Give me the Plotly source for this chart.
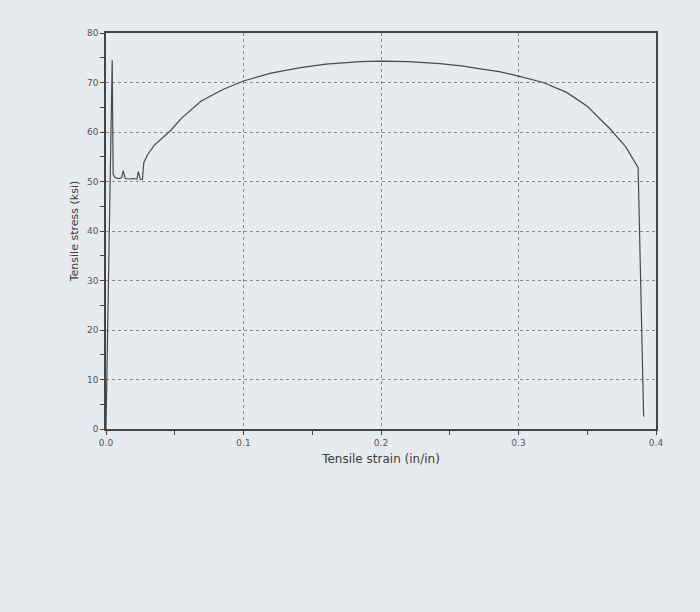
import plotly.graph_objects as go

strain = [0.0, 0.0045, 0.0052, 0.0065, 0.009, 0.0115, 0.0125, 0.0140, 0.017, 0.020, 0.0225, 0.0235, 0.0250, 0.0265,
          0.0275, 0.030, 0.035, 0.047, 0.055, 0.069, 0.085, 0.100, 0.120, 0.1415, 0.160, 0.185, 0.200,
          0.220, 0.243, 0.260, 0.271, 0.286, 0.300, 0.318, 0.335, 0.350, 0.367, 0.378, 0.387, 0.391]
stress = [0.0, 74.5, 51.5, 50.8, 50.6, 50.8, 52.2, 50.6, 50.5, 50.6, 50.5, 52.0, 50.4, 50.4,
          53.8, 55.3, 57.3, 60.3, 62.8, 66.2, 68.6, 70.3, 71.9, 73.0, 73.7, 74.2, 74.3,
          74.2, 73.8, 73.3, 72.8, 72.2, 71.3, 70.0, 68.0, 65.2, 60.5, 57.0, 52.8, 2.5]

x_ticks = [0.0, 0.1, 0.2, 0.3, 0.4]
x_labels = ["0.0", "0.1", "0.2", "0.3", "0.4"]
y_ticks = [0, 10, 20, 30, 40, 50, 60, 70, 80]

bg = "#e7eaee"
fig = go.Figure()
fig.add_trace(go.Scatter(x=strain, y=stress, mode="lines",
                         line=dict(color="#4a4a4a", width=1.2), showlegend=False,
                         hoverinfo="skip"))

fig.update_layout(
    width=700, height=612,
    paper_bgcolor=bg, plot_bgcolor=bg,
    margin=dict(l=106, r=44, t=33, b=183),
    font=dict(family="DejaVu Sans", color="#555555", size=9),
)
fig.update_xaxes(
    range=[0, 0.4], tickvals=x_ticks, ticktext=x_labels,
    showline=True, linecolor="#444444", linewidth=1.5, mirror=True,
    showgrid=True, gridcolor="#8a8a8a", griddash="dot", gridwidth=1,
    ticks="outside", ticklen=4, tickcolor="#444444",
    minor=dict(dtick=0.05, ticks="outside", ticklen=4, tickcolor="#444444", showgrid=False),
    zeroline=False,
    title=dict(text="Tensile strain (in/in)", font=dict(size=12, color="#3a3a3a"), standoff=8),
    tickfont=dict(size=9, color="#555555"),
)
fig.update_yaxes(
    range=[0, 80], tickvals=y_ticks,
    showline=True, linecolor="#444444", linewidth=1.5, mirror=True,
    showgrid=True, gridcolor="#8a8a8a", griddash="dot", gridwidth=1,
    ticks="outside", ticklen=4, tickcolor="#444444",
    minor=dict(dtick=5, ticks="outside", ticklen=4, tickcolor="#444444", showgrid=False),
    zeroline=False,
    title=dict(text="Tensile stress (ksi)", font=dict(size=11, color="#3a3a3a"), standoff=6),
    tickfont=dict(size=9, color="#555555"),
)
fig.write_html("out.html", config={"displayModeBar": False},
               post_script="document.body.style.margin='0';document.body.style.background='%s';" % bg)
